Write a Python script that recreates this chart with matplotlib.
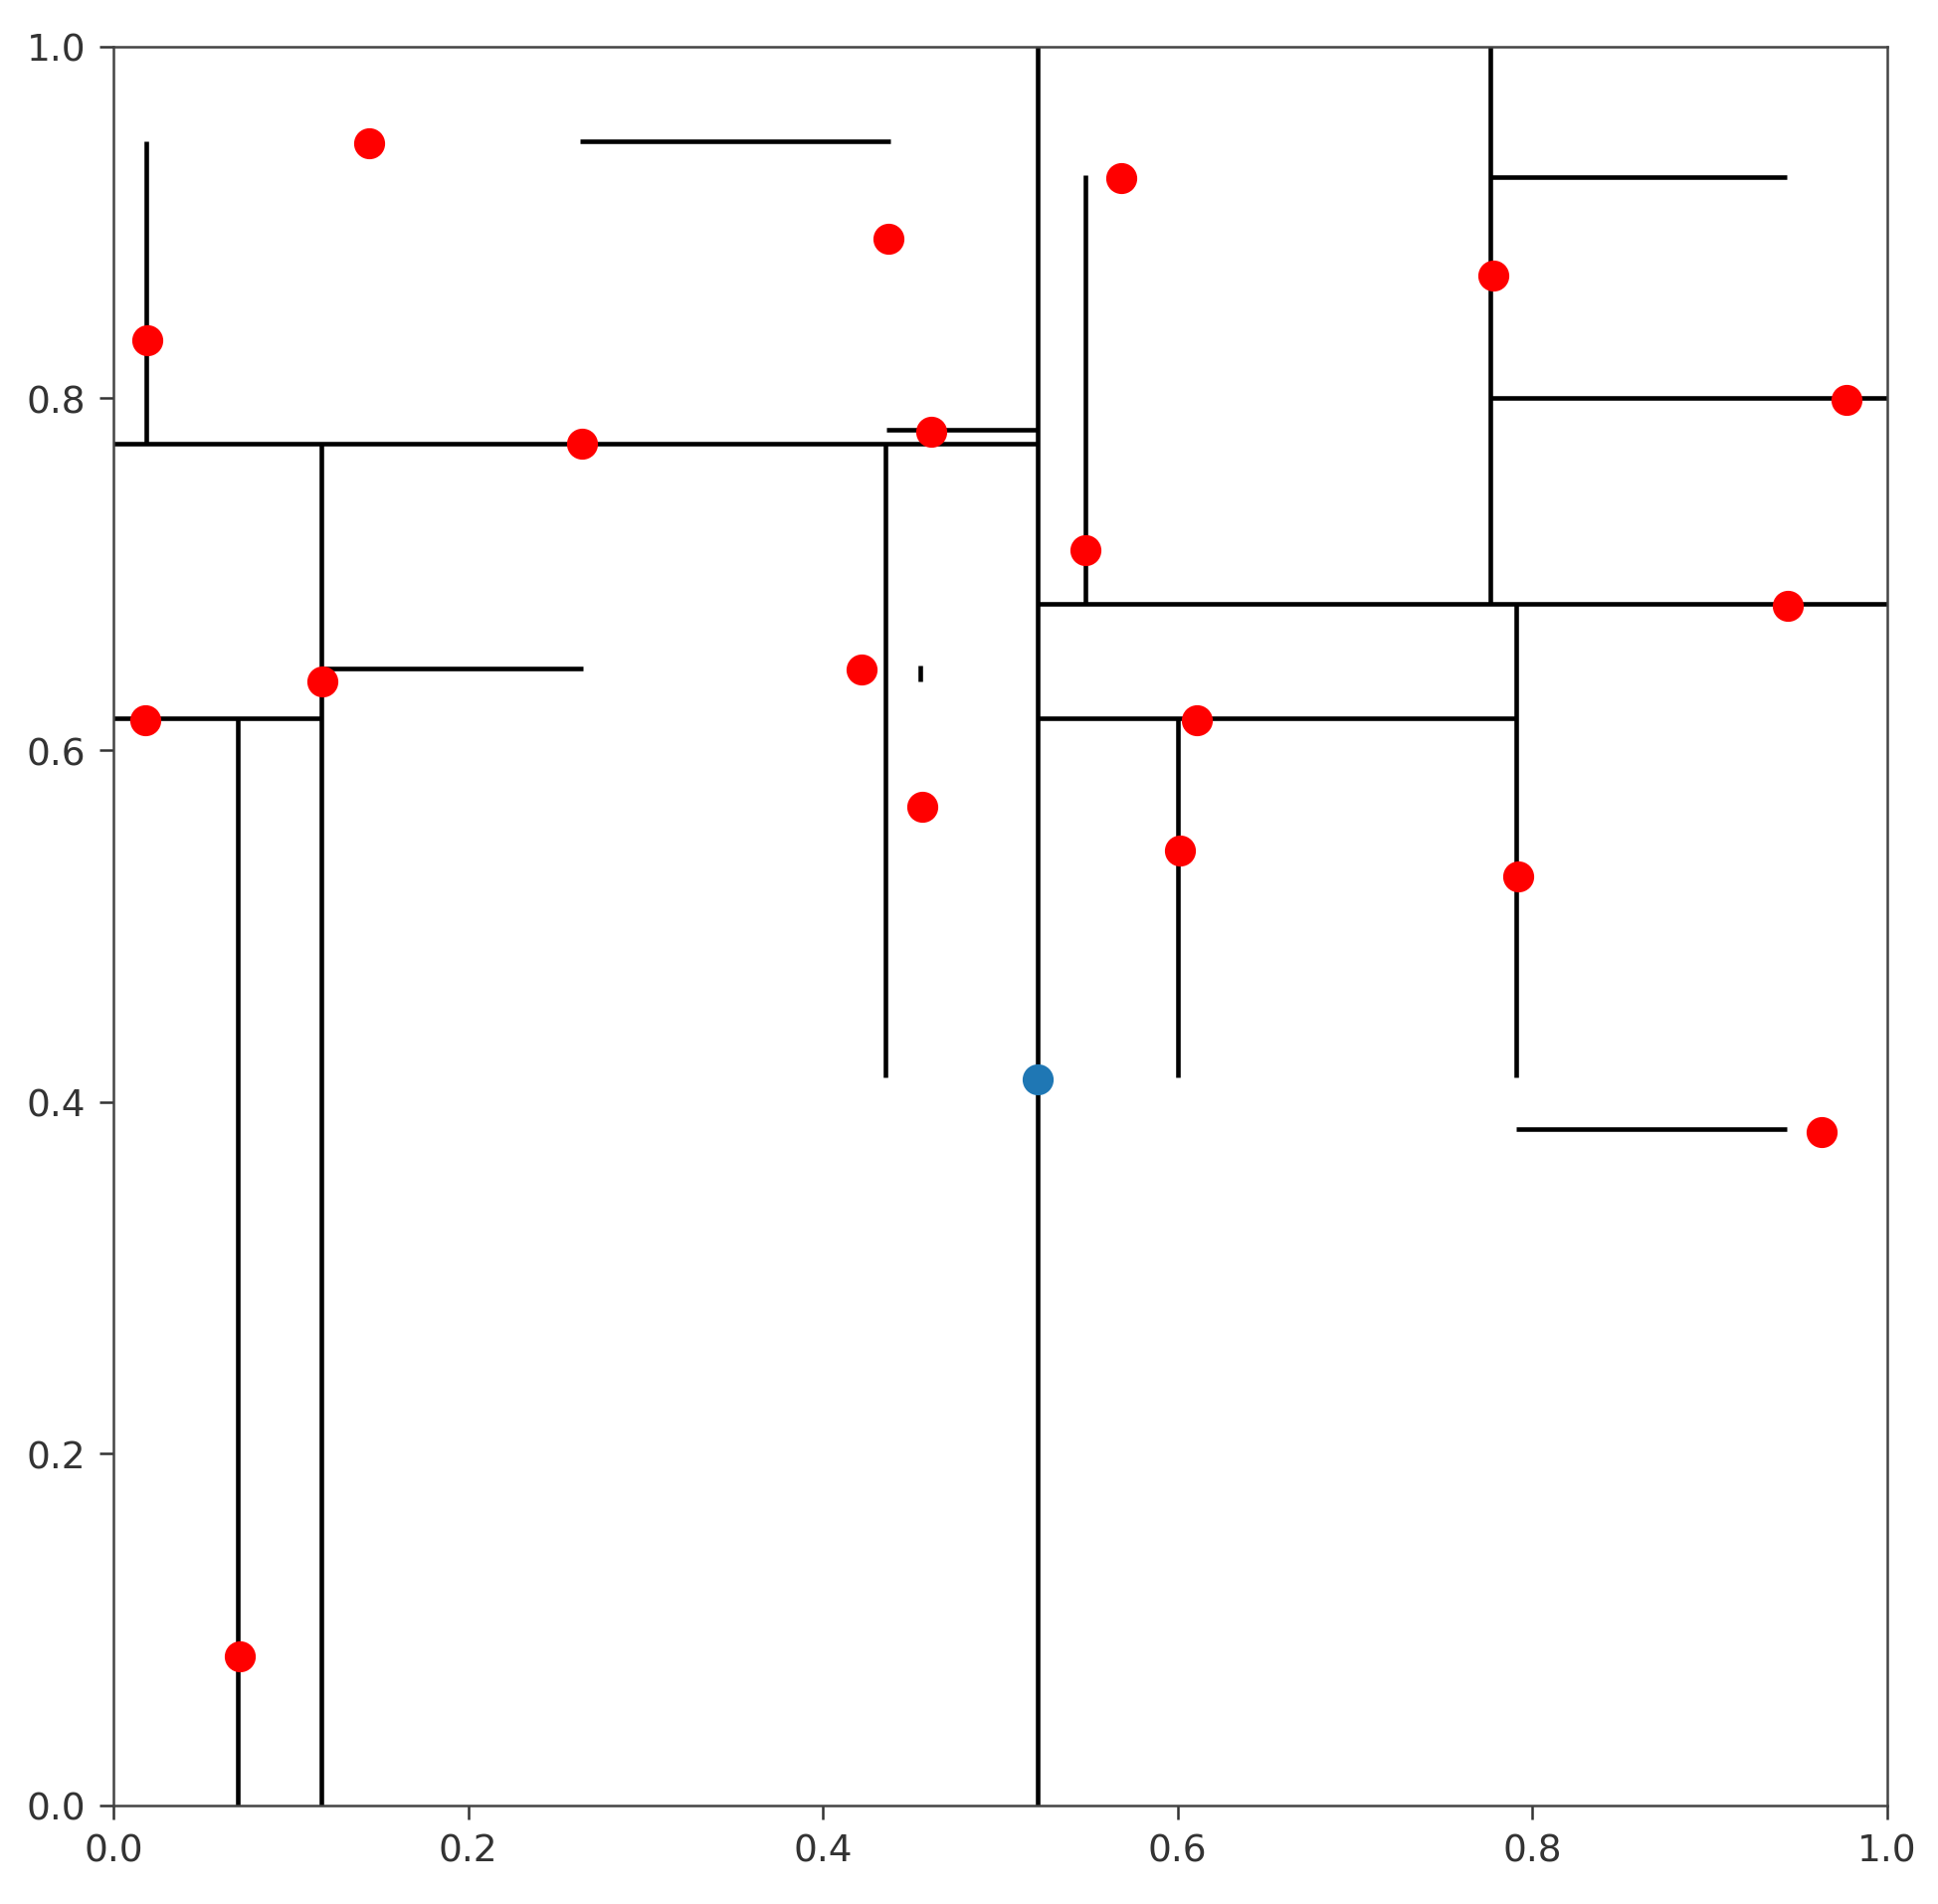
import matplotlib
matplotlib.use("Agg")
import matplotlib.pyplot as plt

# points of the tree (red) and the root (blue)
pts_x = [0.019, 0.144, 0.437, 0.264, 0.461, 0.568, 0.778, 0.977, 0.548, 0.944,
         0.018, 0.118, 0.422, 0.456, 0.611, 0.601, 0.792, 0.963, 0.071]
pts_y = [0.833, 0.945, 0.891, 0.774, 0.781, 0.925, 0.870, 0.799, 0.714, 0.682,
         0.617, 0.639, 0.646, 0.568, 0.617, 0.543, 0.528, 0.383, 0.085]
root_x = [0.521]
root_y = [0.413]

# vertical splits: x, ymin, ymax
vx = [0.521, 0.0188, 0.4355, 0.455, 0.117, 0.0704, 0.776, 0.548, 0.791, 0.600]
vy0 = [0.0, 0.774, 0.414, 0.639, 0.0, 0.0, 0.683, 0.683, 0.414, 0.414]
vy1 = [1.0, 0.946, 0.774, 0.648, 0.774, 0.618, 1.0, 0.927, 0.683, 0.618]

# horizontal splits: y, xmin, xmax
hy = [0.774, 0.946, 0.782, 0.6465, 0.618, 0.683, 0.800, 0.926, 0.618, 0.3845]
hx0 = [0.0, 0.263, 0.436, 0.117, 0.0, 0.521, 0.776, 0.776, 0.521, 0.791]
hx1 = [0.521, 0.438, 0.521, 0.265, 0.117, 1.0, 1.0, 0.9436, 0.791, 0.9436]

fig = plt.figure(figsize=(19.48, 19.15), dpi=100)
ax = fig.add_axes([0.0585, 0.0517, 0.9153, 0.9233])

ax.vlines(vx, vy0, vy1, colors='black', linewidth=3.3)
ax.hlines(hy, hx0, hx1, colors='black', linewidth=3.3)
ax.scatter(pts_x, pts_y, color='red', s=460, zorder=3)
ax.scatter(root_x, root_y, color='#1f77b4', s=460, zorder=3)

ax.set_xlim(0, 1)
ax.set_ylim(0, 1)
ax.tick_params(labelsize=27, length=10, width=1.8, pad=10,
               color='#333333', labelcolor='#333333')
for s in ax.spines.values():
    s.set_linewidth(1.8)
    s.set_color('#444444')

fig.savefig("out.png", dpi=100)
